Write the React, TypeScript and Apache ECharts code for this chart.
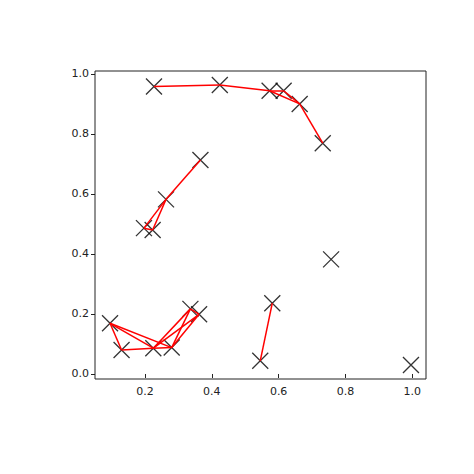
import React, { useEffect, useRef } from "react";
import * as echarts from "echarts";

const pointsX = [0.227, 0.424, 0.573, 0.615, 0.663, 0.732, 0.366, 0.263, 0.197, 0.223, 0.0955, 0.130, 0.225, 0.280, 0.336, 0.362, 0.545, 0.581, 0.757, 0.996];
const pointsY = [0.958, 0.963, 0.944, 0.944, 0.900, 0.769, 0.713, 0.582, 0.486, 0.480, 0.169, 0.080, 0.086, 0.088, 0.217, 0.199, 0.044, 0.236, 0.382, 0.030];
const edgeFrom = [0, 1, 2, 2, 3, 4, 6, 7, 7, 8, 10, 11, 10, 10, 12, 12, 12, 13, 13, 14, 16];
const edgeTo = [1, 2, 3, 4, 4, 5, 7, 8, 9, 9, 11, 12, 12, 13, 13, 14, 15, 14, 15, 15, 17];
const tickValues = [0.0, 0.2, 0.4, 0.6, 0.8, 1.0];

export default function App() {
  const ref = useRef<HTMLDivElement>(null);
  useEffect(() => {
    if (!ref.current) return;
    const chart = echarts.init(ref.current, null, { renderer: "svg" });
    const pts = pointsX.map((x, i) => [x, pointsY[i]]);
    const edges = edgeFrom.map((a, i) => ({ coords: [pts[a], pts[edgeTo[i]]] }));
    const labelStyle = {
      color: "#222",
      fontSize: 11,
      fontFamily: "DejaVu Sans",
      formatter: (v: number) => v.toFixed(1),
    };
    chart.setOption({
      animation: false,
      backgroundColor: "#fff",
      grid: {
        left: 95,
        right: 48,
        top: 71,
        bottom: 95,
        show: true,
        borderColor: "#222",
        borderWidth: 1,
        backgroundColor: "transparent",
      },
      xAxis: {
        type: "value",
        min: 0.0505,
        max: 1.041,
        splitLine: { show: false },
        axisLine: { show: false },
        axisTick: { show: true, length: 4, lineStyle: { color: "#222" }, customValues: tickValues.filter((v) => v >= 0.0505) },
        axisLabel: { ...labelStyle, margin: 7, customValues: tickValues.filter((v) => v >= 0.0505) },
      },
      yAxis: {
        type: "value",
        min: -0.0167,
        max: 1.0097,
        splitLine: { show: false },
        axisLine: { show: false },
        axisTick: { show: true, length: 4, lineStyle: { color: "#222" }, customValues: tickValues },
        axisLabel: { ...labelStyle, margin: 6, customValues: tickValues },
      },
      series: [
        {
          type: "scatter",
          data: pts,
          symbol: "path://M0,0L10,10M10,0L0,10",
          symbolSize: 16,
          itemStyle: { color: "none", borderColor: "#000", borderWidth: 1.3 },
          z: 2,
        },
        {
          type: "lines",
          coordinateSystem: "cartesian2d",
          data: edges,
          lineStyle: { color: "#ff0000", width: 1.5, opacity: 1 },
          z: 3,
        },
      ],
    });
    return () => chart.dispose();
  }, []);
  return <div ref={ref} style={{ width: 474, height: 474, position: "absolute", left: 0, top: 0 }} />;
}
